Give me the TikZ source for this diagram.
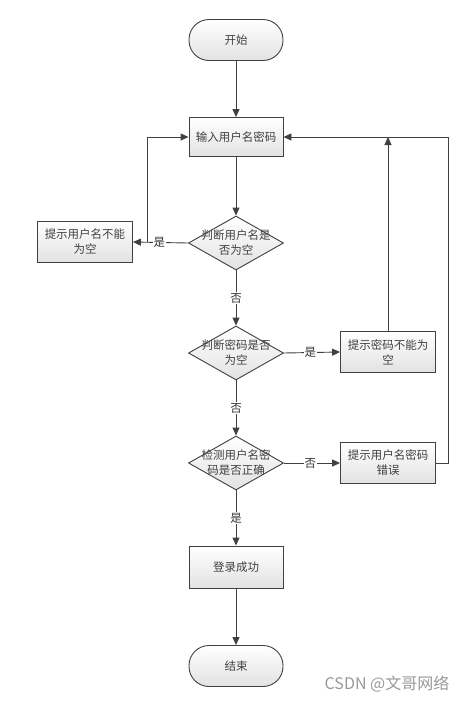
\documentclass[tikz,border=0pt]{standalone}
\usepackage{fontspec}
\setmainfont{Noto Sans CJK SC}
\usetikzlibrary{arrows.meta,shapes.geometric}
\definecolor{ln}{RGB}{64,64,64}
\definecolor{fl}{RGB}{226,226,226}
\begin{document}
\begin{tikzpicture}[x=1pt,y=-1pt,
  base/.style={draw=ln, line width=0.9pt, top color=white, bottom color=fl, font=\fontsize{11.5}{15}\selectfont, text=black!75, align=center, inner sep=0pt},
  term/.style={base, rounded corners=20pt, minimum width=94pt, minimum height=41pt},
  proc/.style={base, minimum width=94pt, minimum height=41pt},
  dia/.style={base, diamond, minimum width=95pt, minimum height=54pt},
  txt/.style={font=\fontsize{11.5}{15}\selectfont, text=black!75, align=center, inner sep=0pt},
  lab/.style={font=\fontsize{11.5}{13}\selectfont, text=black!80, fill=white, inner sep=1pt},
  conn/.style={draw=ln, line width=0.9pt, -{Triangle[length=8pt,width=7pt]}},
  plain/.style={draw=ln, line width=0.9pt}]
\useasboundingbox (0,0) rectangle (472,702);

\node[term] (start) at (236,40) {开始};
\node[proc, minimum height=39pt] (input) at (236,137) {输入用户名密码};
\node[dia] (d1) at (236,243) {};
\node[txt] (d1t) at (d1) {判断用户名是\\否为空};
\node[proc, minimum width=95pt] (b1) at (85,242) {提示用户名不能\\为空};
\node[dia] (d2) at (236,353) {};
\node[txt] (d2t) at (d2) {判断密码是否\\为空};
\node[proc, minimum width=95pt] (b2) at (388,352) {提示密码不能为\\空};
\node[dia] (d3) at (236,463) {};
\node[txt] (d3t) at (d3) {检测用户名密\\码是否正确};
\node[proc, minimum width=95pt] (b3) at (388,463) {提示用户名密码\\错误};
\node[proc, minimum height=42pt] (ok) at (236,567) {登录成功};
\node[term] (end) at (236,666) {结束};

\coordinate (c1) at (147,242);
\coordinate (c2) at (388,137);
\coordinate (c3) at (448,463);

\draw[conn] (start) -- (input);
\draw[conn] (input) -- (d1);
\draw[conn] (d1.west) -- (b1.east) node[lab, pos=0.52] {是};
\draw[conn] (c1) |- (input.west);
\draw[conn] (d1.south) -- (d2.north) node[lab, pos=0.5] {否};
\draw[conn] (d2.east) -- (b2.west) node[lab, pos=0.47] {是};
\draw[conn] (b2.north) -- (c2);
\draw[conn] (d2.south) -- (d3.north) node[lab, pos=0.5] {否};
\draw[conn] (d3.east) -- (b3.west) node[lab, pos=0.47] {否};
\draw[conn] (b3.east) -- (c3) |- (input.east);
\draw[conn] (d3.south) -- (ok.north) node[lab, pos=0.5] {是};
\draw[conn] (ok) -- (end);

\node[font=\fontsize{16}{18}\selectfont, text=black!40] (wm) at (387,684) {CSDN @文哥网络};
\end{tikzpicture}
\end{document}
